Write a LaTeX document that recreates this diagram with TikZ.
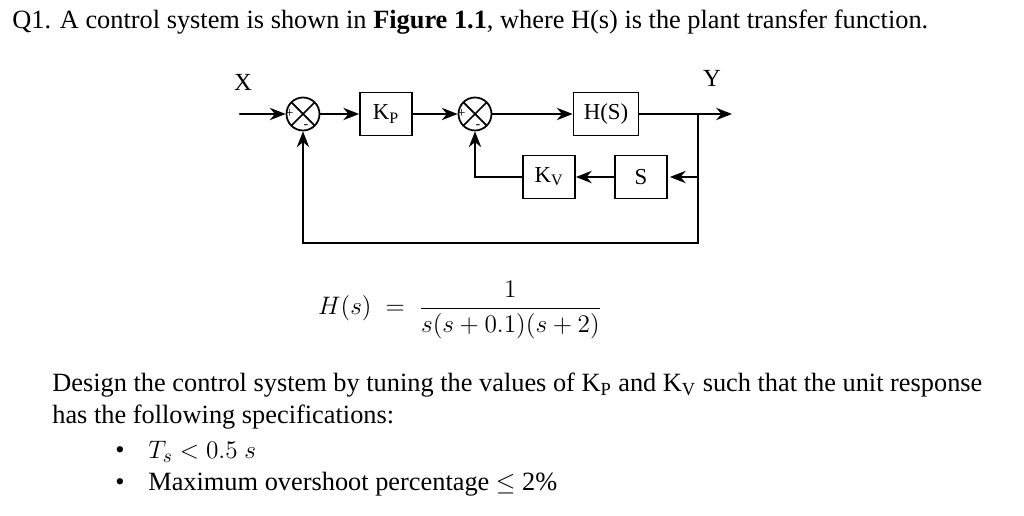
\documentclass[tikz,border=0pt]{standalone}
\usepackage{amsmath}
\usepackage{fontspec}
\setmainfont{Liberation Serif}
\usetikzlibrary{arrows.meta,calc,positioning}
\tikzset{
  blk/.style={draw,line width=1pt,minimum width=1.04cm,minimum height=0.86cm,inner sep=0pt,font=\fontsize{13}{15}\selectfont},
  sumnode/.style={draw,circle,line width=1pt,minimum size=0.66cm,inner sep=0pt,path picture={
      \draw[line width=1pt] (path picture bounding box.north west)--(path picture bounding box.south east)
        (path picture bounding box.north east)--(path picture bounding box.south west);}},
  sig/.style={line width=1.2pt,-{Stealth[length=9pt,width=7pt]}},
  sgn/.style={font=\fontsize{8}{8}\selectfont,inner sep=0pt},
  txt/.style={anchor=base west,inner sep=0pt,font=\fontsize{15}{18}\selectfont}
}
\begin{document}
\begin{tikzpicture}[x=0.02cm,y=-0.02cm,line cap=round]
  \useasboundingbox (0,0) rectangle (1024,516);
  % heading
  \node[txt] (title) at (12,29) {Q1. A control system is shown in \textbf{Figure 1.1}, where H(s) is the plant transfer function.};

  % block diagram
  \coordinate (in) at (240,114);
  \node[sumnode] (sum1) at (303,114) {};
  \node[blk] (kp) at (386,114) {K\textsubscript{P}};
  \node[sumnode] (sum2) at (475,114) {};
  \node[blk,minimum width=1.3cm] (hs) at (606,114) {H(S)};
  \coordinate (out) at (732,114);
  \coordinate (br) at (698,114);
  \node[blk] (kv) at (549,177) {K\textsubscript{V}};
  \node[blk] (sb) at (641,177) {S};
  \node[font=\fontsize{14}{16}\selectfont] (xl) at (243,82) {X};
  \node[font=\fontsize{14}{16}\selectfont] (yl) at (712,78) {Y};
  \node[sgn] at ($(sum1.west)+(4,0)$) {+};
  \node[sgn] at ($(sum1.south)+(3,-5)$) {-};
  \node[sgn] at ($(sum2.west)+(4,0)$) {+};
  \node[sgn] at ($(sum2.south)+(3,-5)$) {-};

  \draw[sig] (in) -- (sum1);
  \draw[sig] (sum1) -- (kp);
  \draw[sig] (kp) -- (sum2);
  \draw[sig] (sum2) -- (hs);
  \draw[sig] (hs) -- (out);
  \draw[sig] (br) |- ($(sb.east)+(2,0)$);
  \draw[sig] (sb) -- (kv);
  \draw[sig] (kv.west) -| (sum2.south);
  \draw[sig] (br) |- (303,243) -- (sum1.south);

  % transfer function
  \node[font=\fontsize{15}{18}\selectfont] (hfun) at (460,310)
    {$H(s)\;=\;\dfrac{1}{s(s+0.1)(s+2)}$};

  % task
  \node[txt] (t1) at (52,392) {Design the control system by tuning the values of K\textsubscript{P} and K\textsubscript{V} such that the unit response};
  \node[txt] (t2) at (52,424) {has the following specifications:};
  \node[txt] (b1) at (115,459) {\textbullet};
  \node[txt] (i1) at (148,459) {$T_s<0.5\ s$};
  \node[txt] (b2) at (115,491) {\textbullet};
  \node[txt] (i2) at (148,491) {Maximum overshoot percentage $\le$ 2\%};
\end{tikzpicture}
\end{document}
